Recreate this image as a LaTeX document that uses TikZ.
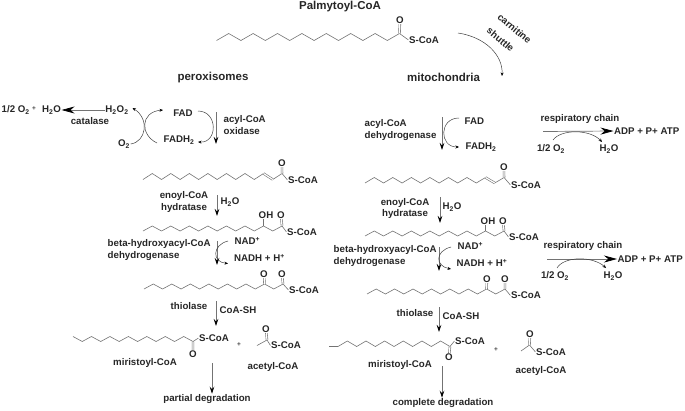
\documentclass[tikz,border=0pt]{standalone}
\usepackage{fontspec}
\setmainfont{Liberation Sans}
\usetikzlibrary{arrows.meta}

\tikzset{
  x=1pt, y=-1pt,
  lbl/.style={font=\bfseries\fontsize{9.7}{11.5}\selectfont, text=black!85, inner sep=0.5pt},
  head/.style={font=\bfseries\fontsize{11.5}{13}\selectfont, text=black!85, inner sep=0.5pt},
  plusmark/.style={font=\bfseries\fontsize{6.5}{7}\selectfont, text=black!75, inner sep=0.5pt},
  bond/.style={draw=black!55, line width=0.6pt},
  dblbond/.style={bond, double, double distance=1.2pt},
  flow/.style={draw=black!55, line width=0.7pt, -{Stealth[length=7pt,width=4.5pt,color=black]}},
  bigflow/.style={draw=black!55, line width=0.7pt, -{Stealth[length=13pt,width=7pt,color=black]}},
  turn/.style={draw=black!75, line width=0.5pt, -{Stealth[length=3.5pt,width=3pt,color=black]}}
}

% zigzag of #6 bonds, the points are named #1-0, #1-1, ...
\newcommand{\fatchain}[6]{
  \draw [bond] (#2,#3) coordinate (#1-0)
    \foreach \i in {1,...,#6} { -- ({#2+\i*#4},{#3+mod(\i,2)*#5}) coordinate (#1-\i) };
}

\begin{document}
\begin{tikzpicture}
  \useasboundingbox (0,0) rectangle (685,410);

  % top
  \node [head] (palm) at (340,7) {Palmytoyl-CoA};
  \fatchain{palm}{216.5}{40.5}{12.2}{-7}{15}
  \node [lbl] (palmo) at (400,20) {O};
  \node [lbl] (palms) at (424,40) {S-CoA};
  \draw [dblbond] (palm-15) -- (palmo);
  \draw [bond] (palm-15) -- (palms.west);
  \node [head] (perox) at (213,78) {peroxisomes};
  \node [head] (mito) at (443.5,77) {mitochondria};
  \node [lbl, rotate=-40] (carn) at (514.5,28.5) {carnitine};
  \node [lbl, rotate=-40] (shuttle) at (500.5,39.5) {shuttle};
  \coordinate (cs1) at (458,33);
  \coordinate (cs2) at (502,76);
  \draw [turn] (cs1) .. controls (485,37) and (503,55) .. (cs2);

  % peroxisomes
  \node [lbl, anchor=west] (halfo) at (1,110) {1/2 O\textsubscript{2}};
  \node [plusmark] (plus0) at (34,109) {+};
  \node [lbl] (wat) at (51.5,110) {H\textsubscript{2}O};
  \node [lbl] (hpo) at (117,110) {H\textsubscript{2}O\textsubscript{2}};
  \node [lbl] (catal) at (90,121) {catalase};
  \node [lbl] (oxy) at (124,144) {O\textsubscript{2}};
  \node [lbl] (fad) at (183,113) {FAD};
  \node [lbl] (fadh) at (179,140) {FADH\textsubscript{2}};
  \node [lbl, anchor=west, align=left] (oxid) at (223,125) {acyl-CoA\\oxidase};
  \draw [bigflow] (hpo.west) -- (wat.east);
  \coordinate (cr1) at (132.5,108);
  \coordinate (cr2) at (157,143);
  \coordinate (cr3) at (163,110);
  \draw [turn] (oxy.east) .. controls (146,142) and (150,119) .. (cr1);
  \draw [turn] (cr2) .. controls (140,135) and (140,112) .. (cr3);
  \coordinate (cr4) at (198,111);
  \coordinate (cr5) at (198,142);
  \draw [turn] (cr4) .. controls (218,111) and (218,143) .. (cr5);
  \coordinate (pa1) at (216,112);
  \coordinate (pa2) at (216,144);
  \draw [flow] (pa1) -- (pa2);

  \fatchain{pen}{143}{179.5}{9.27}{-6}{15}
  \draw [dblbond] (pen-13) -- (pen-14);
  \node [lbl] (peno) at (282,163) {O};
  \node [lbl] (pens) at (303,180) {S-CoA};
  \draw [dblbond] (pen-15) -- (peno);
  \draw [bond] (pen-15) -- (pens.west);
  \node [lbl, align=center] (phyd) at (184,202) {enoyl-CoA\\hydratase};
  \node [lbl] (pwat) at (230,202) {H\textsubscript{2}O};
  \coordinate (pb1) at (217,195);
  \coordinate (pb2) at (217,216);
  \draw [flow] (pb1) -- (pb2);

  \fatchain{poh}{143}{231}{9.27}{-5}{15}
  \node [lbl] (pohh) at (266,215) {OH};
  \node [lbl] (poho) at (281,215) {O};
  \node [lbl] (pohs) at (302,232) {S-CoA};
  \draw [bond] (poh-13) -- (poh-13 |- pohh.south);
  \draw [dblbond] (poh-15) -- (poho);
  \draw [bond] (poh-15) -- (pohs.west);
  \node [lbl, anchor=west, align=left] (pbeta) at (107,250) {beta-hydroxyacyl-CoA\\dehydrogenase};
  \node [lbl, anchor=west] (pnad) at (234,241) {NAD\textsuperscript{+}};
  \node [lbl, anchor=west] (pnadh) at (233.5,258) {NADH + H\textsuperscript{+}};
  \coordinate (pc1) at (217,241);
  \coordinate (pc2) at (217,265);
  \draw [flow] (pc1) -- (pc2);
  \coordinate (pd1) at (228,241);
  \coordinate (pd2) at (228,263.5);
  \draw [turn] (pd1) .. controls (212,245) and (212,262) .. (pd2);

  \fatchain{pke}{144}{289}{9.27}{-5}{15}
  \node [lbl] (pkeo) at (264,274) {O};
  \node [lbl] (pkep) at (282,274) {O};
  \node [lbl] (pkes) at (304,290) {S-CoA};
  \draw [dblbond] (pke-13) -- (pkeo);
  \draw [dblbond] (pke-15) -- (pkep);
  \draw [bond] (pke-15) -- (pkes.west);
  \node [lbl] (pthio) at (189,306) {thiolase};
  \node [lbl, anchor=west] (pcoa) at (219,310) {CoA-SH};
  \coordinate (pe1) at (216,301);
  \coordinate (pe2) at (216,326);
  \draw [flow] (pe1) -- (pe2);

  \fatchain{pmi}{73}{336.5}{9.23}{5}{13}
  \node [lbl] (pmio) at (193,354) {O};
  \node [lbl] (pmis) at (214,338) {S-CoA};
  \draw [dblbond] (pmi-13) -- (pmio);
  \draw [bond] (pmi-13) -- (pmis.west);
  \node [plusmark] (plus1) at (239,345) {+};
  \fatchain{pac}{257}{345.5}{10}{-5.5}{1}
  \node [lbl] (paco) at (266,329) {O};
  \node [lbl] (pacs) at (286,345.5) {S-CoA};
  \draw [dblbond] (pac-1) -- (paco);
  \draw [bond] (pac-1) -- (pacs.west);
  \node [lbl] (pmin) at (145,363) {miristoyl-CoA};
  \node [lbl] (pacn) at (273,367) {acetyl-CoA};
  \node [lbl] (pdeg) at (207,399) {partial degradation};
  \coordinate (pf1) at (212,363);
  \draw [flow] (pf1) -- (pf1 |- pdeg.north);

  % mitochondria
  \node [lbl, anchor=west, align=left] (mdeh) at (364,130) {acyl-CoA\\dehydrogenase};
  \node [lbl, anchor=west] (mfad) at (464,121) {FAD};
  \node [lbl, anchor=west] (mfadh) at (465,147) {FADH\textsubscript{2}};
  \coordinate (ma1) at (442,117);
  \coordinate (ma2) at (442,150);
  \draw [flow] (ma1) -- (ma2);
  \coordinate (ma3) at (459,118);
  \coordinate (ma4) at (459,147);
  \draw [turn] (ma3) .. controls (439,118) and (439,147) .. (ma4);

  \node [lbl] (resp1) at (580,119) {respiratory chain};
  \node [lbl, anchor=west] (atp1) at (613.5,131) {ADP + P+ ATP};
  \coordinate (mb1) at (543,131.5);
  \draw [bigflow] (mb1) -- (atp1.west);
  \node [lbl] (mo1) at (551,149) {1/2 O\textsubscript{2}};
  \node [lbl] (mw1) at (609,149) {H\textsubscript{2}O};
  \coordinate (mb2) at (553,140);
  \coordinate (mb3) at (602,142);
  \draw [turn] (mb2) .. controls (561,129) and (590,129) .. (mb3);

  \fatchain{men}{365}{183}{9.27}{-5.5}{15}
  \draw [dblbond] (men-13) -- (men-14);
  \node [lbl] (meno) at (504,167) {O};
  \node [lbl] (mens) at (526,185) {S-CoA};
  \draw [dblbond] (men-15) -- (meno);
  \draw [bond] (men-15) -- (mens.west);
  \node [lbl, align=center] (mhyd) at (405,208.5) {enoyl-CoA\\hydratase};
  \node [lbl] (mwat) at (452,207) {H\textsubscript{2}O};
  \coordinate (mc1) at (440,197);
  \coordinate (mc2) at (440,223);
  \draw [flow] (mc1) -- (mc2);

  \fatchain{moh}{365}{236}{9.27}{-5}{15}
  \node [lbl] (mohh) at (488,221) {OH};
  \node [lbl] (moho) at (503,221) {O};
  \node [lbl] (mohs) at (524,237) {S-CoA};
  \draw [bond] (moh-13) -- (moh-13 |- mohh.south);
  \draw [dblbond] (moh-15) -- (moho);
  \draw [bond] (moh-15) -- (mohs.west);
  \node [lbl, anchor=west, align=left] (mbeta) at (333,256) {beta-hydroxyacyl-CoA\\dehydrogenase};
  \node [lbl, anchor=west] (mnad) at (457,246) {NAD\textsuperscript{+}};
  \node [lbl, anchor=west] (mnadh) at (456,263) {NADH + H\textsuperscript{+}};
  \coordinate (md1) at (439,247);
  \coordinate (md2) at (439,271);
  \draw [flow] (md1) -- (md2);
  \coordinate (me1) at (451,247);
  \coordinate (me2) at (451,269);
  \draw [turn] (me1) .. controls (435,251) and (435,266) .. (me2);

  \node [lbl] (resp2) at (583,246) {respiratory chain};
  \node [lbl, anchor=west] (atp2) at (617,259) {ADP + P+ ATP};
  \coordinate (mf1) at (547,259);
  \draw [bigflow] (mf1) -- (atp2.west);
  \node [lbl] (mo2) at (555,276) {1/2 O\textsubscript{2}};
  \node [lbl] (mw2) at (613,276) {H\textsubscript{2}O};
  \coordinate (mf2) at (557,268);
  \coordinate (mf3) at (606,268);
  \draw [turn] (mf2) .. controls (564,256) and (593,256) .. (mf3);

  \fatchain{mke}{367}{294}{9.2}{-5}{15}
  \node [lbl] (mkeo) at (487,279) {O};
  \node [lbl] (mkep) at (505,279) {O};
  \node [lbl] (mkes) at (526,295.5) {S-CoA};
  \draw [dblbond] (mke-13) -- (mkeo);
  \draw [dblbond] (mke-15) -- (mkep);
  \draw [bond] (mke-15) -- (mkes.west);
  \node [lbl] (mthio) at (415,313) {thiolase};
  \node [lbl, anchor=west] (mcoa) at (442,316) {CoA-SH};
  \coordinate (mg1) at (439,307);
  \coordinate (mg2) at (439,332);
  \draw [flow] (mg1) -- (mg2);

  \fatchain{mmi}{338}{346.5}{9.33}{-5.5}{12}
  \coordinate (mms) at (329,346.5);
  \draw [bond] (mms) -- (mmi-0);
  \node [lbl] (mmio) at (449,357) {O};
  \node [lbl] (mmis) at (470,341) {S-CoA};
  \draw [dblbond] (mmi-12) -- (mmio);
  \draw [bond] (mmi-12) -- (mmis.west);
  \node [plusmark] (plus2) at (496,350) {+};
  \fatchain{mac}{521}{351}{8.5}{-6}{1}
  \node [lbl] (maco) at (530,334) {O};
  \node [lbl] (macs) at (551,352) {S-CoA};
  \draw [dblbond] (mac-1) -- (maco);
  \draw [bond] (mac-1) -- (macs.west);
  \node [lbl] (mmin) at (400,365) {miristoyl-CoA};
  \node [lbl] (macn) at (541,371) {acetyl-CoA};
  \node [lbl] (mdeg) at (443,403) {complete degradation};
  \coordinate (mh1) at (442,366);
  \draw [flow] (mh1) -- (mh1 |- mdeg.north);
\end{tikzpicture}
\end{document}
